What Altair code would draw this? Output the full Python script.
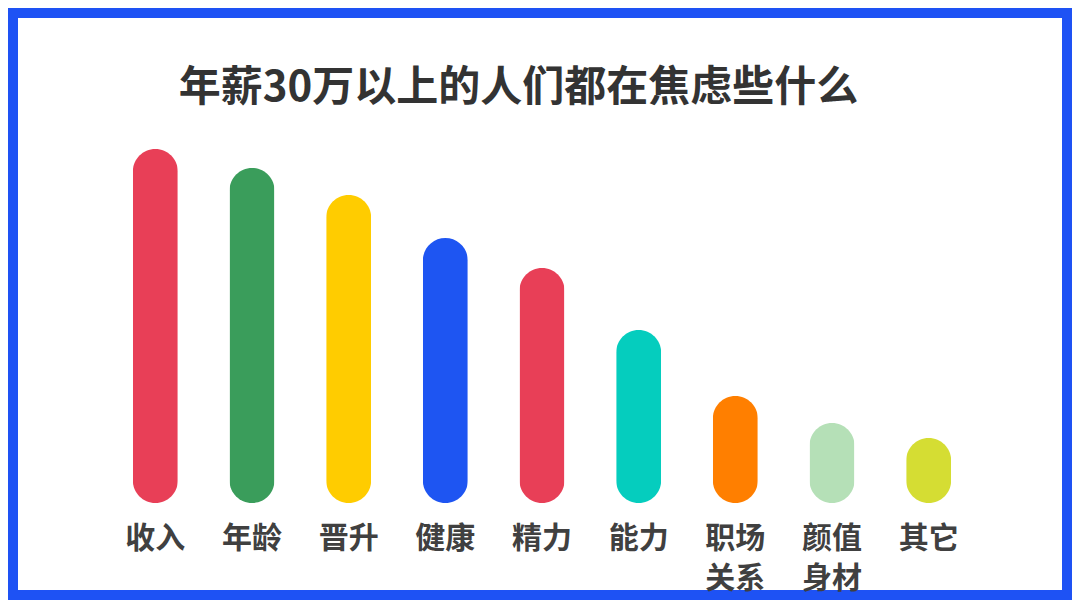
import altair as alt
import pandas as pd

TITLE = "年薪30万以上的人们都在焦虑些什么"
categories = ["收入", "年龄", "晋升", "健康", "精力", "能力", "职场关系", "颜值身材", "其它"]
line1 = ["收入", "年龄", "晋升", "健康", "精力", "能力", "职场", "颜值", "其它"]
line2 = ["", "", "", "", "", "", "关系", "身材", ""]
values = [35.4, 33.5, 30.8, 26.5, 23.5, 17.3, 10.7, 8.0, 6.5]
colors = ["#E83F57", "#3A9D5B", "#FFCC00", "#1E55F2", "#E83F57",
          "#05CDBE", "#FF7F00", "#B5E0B7", "#D5DD33"]

W, H = 1064, 592
FONT = "Noto Sans CJK SC"

df = pd.DataFrame({"cat": categories, "l1": line1, "l2": line2, "value": values})

xscale = alt.Scale(domain=categories, range=[99, 969], paddingInner=0, paddingOuter=0)
yscale = alt.Scale(domain=[0, 40], range=[495, 95])

base = alt.Chart(df)

bars = base.mark_bar(size=45, cornerRadius=22.5).encode(
    x=alt.X("cat:N", scale=xscale, axis=None, sort=categories),
    y=alt.Y("value:Q", scale=yscale, axis=None),
    color=alt.Color("cat:N", scale=alt.Scale(domain=categories, range=colors), legend=None),
)

text_style = dict(font=FONT, fontSize=30, fontWeight="bold", color="#404040",
                  baseline="top", align="center")

text1 = base.mark_text(**text_style).encode(
    x=alt.X("cat:N", scale=xscale, axis=None, sort=categories),
    y=alt.value(516),
    text="l1:N",
)

text2 = base.transform_filter(alt.datum.l2 != "").mark_text(**text_style).encode(
    x=alt.X("cat:N", scale=xscale, axis=None, sort=categories),
    y=alt.value(556),
    text="l2:N",
)

title = alt.Chart(pd.DataFrame({"t": [TITLE]})).mark_text(
    font=FONT, fontSize=42, fontWeight="bold", color="#333333",
    baseline="middle", align="center",
).encode(x=alt.value(510.5), y=alt.value(80), text="t:N")

border = alt.Chart(pd.DataFrame({"b": [1]})).mark_rect(
    fill=None, fillOpacity=0, stroke="#1E52F4", strokeWidth=10,
).encode(x=alt.value(5), x2=alt.value(W - 5), y=alt.value(5), y2=alt.value(H - 5))

chart = alt.layer(border, bars, text1, text2, title).properties(
    width=W, height=H, padding=0, autosize=alt.AutoSizeParams(type="none"),
    background="white",
).configure_view(stroke=None)

chart.save("out.html", embed_options={"renderer": "svg", "actions": False})
